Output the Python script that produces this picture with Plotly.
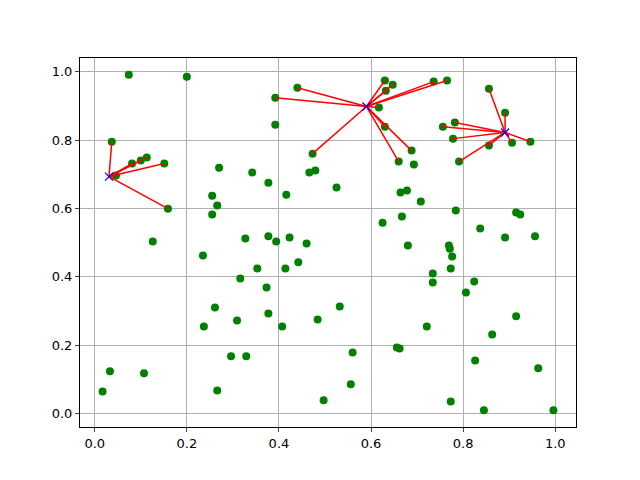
import plotly.graph_objects as go

# centres (blue x)
cx = [0.031, 0.590, 0.891]
cy = [0.693, 0.898, 0.822]

# points joined to each centre
c0x = [0.037, 0.046, 0.081, 0.100, 0.113, 0.151, 0.159]
c0y = [0.795, 0.696, 0.731, 0.740, 0.749, 0.731, 0.599]
c1x = [0.392, 0.440, 0.473, 0.617, 0.630, 0.632, 0.630, 0.647, 0.660, 0.688, 0.736, 0.765]
c1y = [0.924, 0.953, 0.760, 0.895, 0.974, 0.944, 0.839, 0.962, 0.737, 0.769, 0.971, 0.974]
c2x = [0.756, 0.778, 0.782, 0.791, 0.856, 0.856, 0.891, 0.906, 0.946]
c2y = [0.839, 0.804, 0.851, 0.737, 0.950, 0.784, 0.880, 0.792, 0.795]

# remaining points
ox = [0.074, 0.200, 0.017, 0.033, 0.107, 0.126, 0.235, 0.237, 0.255, 0.255, 0.266, 0.270,
      0.261, 0.266, 0.296, 0.309, 0.316, 0.327, 0.329, 0.342, 0.353, 0.373, 0.377, 0.377,
      0.377, 0.394, 0.392, 0.407, 0.414, 0.416, 0.423, 0.442, 0.460, 0.466, 0.479, 0.484,
      0.497, 0.525, 0.532, 0.560, 0.556, 0.625, 0.664, 0.667, 0.656, 0.662, 0.678, 0.680,
      0.693, 0.708, 0.721, 0.734, 0.734, 0.769, 0.771, 0.776, 0.773, 0.773, 0.784, 0.806,
      0.824, 0.826, 0.837, 0.845, 0.863, 0.891, 0.915, 0.915, 0.924, 0.956, 0.963, 0.996]
oy = [0.991, 0.985, 0.064, 0.123, 0.117, 0.503, 0.462, 0.254, 0.637, 0.582, 0.608, 0.719,
      0.310, 0.067, 0.167, 0.272, 0.395, 0.512, 0.167, 0.705, 0.424, 0.368, 0.675, 0.292,
      0.518, 0.503, 0.845, 0.254, 0.424, 0.640, 0.515, 0.442, 0.497, 0.705, 0.711, 0.275,
      0.038, 0.661, 0.313, 0.178, 0.085, 0.558, 0.646, 0.576, 0.193, 0.190, 0.652, 0.491,
      0.728, 0.620, 0.254, 0.409, 0.383, 0.491, 0.482, 0.459, 0.424, 0.035, 0.594, 0.354,
      0.386, 0.155, 0.541, 0.009, 0.231, 0.515, 0.588, 0.284, 0.582, 0.518, 0.132, 0.009]

groups = [(c0x, c0y), (c1x, c1y), (c2x, c2y)]

allx = ox + c0x + c1x + c2x
ally = oy + c0y + c1y + c2y

lx, ly = [], []
for k, (gx, gy) in enumerate(groups):
    for x, y in zip(gx, gy):
        lx += [cx[k], x, None]
        ly += [cy[k], y, None]

fig = go.Figure()
fig.add_trace(go.Scatter(x=allx, y=ally, mode='markers', marker=dict(color='green', size=8)))
fig.add_trace(go.Scatter(x=lx, y=ly, mode='lines', line=dict(color='red', width=1.5)))
fig.add_trace(go.Scatter(x=cx, y=cy, mode='markers',
                         marker=dict(symbol='x-thin', color='blue', size=8, line=dict(color='blue', width=1.2))))

ax = dict(showgrid=True, gridcolor='#b0b0b0', gridwidth=1, zeroline=False, showline=True,
          linecolor='black', mirror=True, ticks='outside', ticklen=4,
          tickfont=dict(family='DejaVu Sans', size=13, color='black'))
fig.update_layout(width=640, height=480, plot_bgcolor='white', paper_bgcolor='white',
                  showlegend=False, margin=dict(l=72, r=72, t=50, b=61),
                  xaxis=dict(ax, range=[-0.032, 1.045], tickvals=[0, 0.2, 0.4, 0.6, 0.8, 1.0], tickformat='.1f'),
                  yaxis=dict(ax, range=[-0.04, 1.04], tickvals=[0, 0.2, 0.4, 0.6, 0.8, 1.0], tickformat='.1f'))
fig.write_html("out.html")
